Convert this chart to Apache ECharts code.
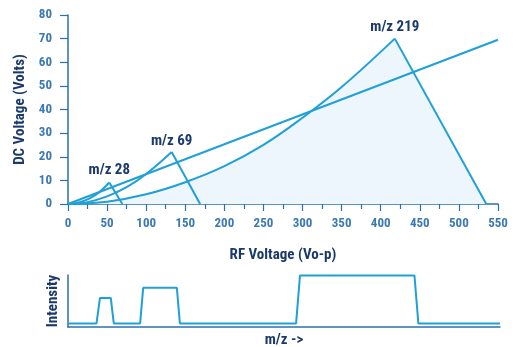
<!DOCTYPE html>
<html><head><meta charset="utf-8">
<script src="https://cdn.jsdelivr.net/npm/echarts@6/dist/echarts.min.js"></script>
<style>html,body{margin:0;padding:0;background:#fff}#c{width:522px;height:347px}</style>
</head><body><div id="c"></div>
<script>
// RF voltage axis ticks
const rfTicks = [0,50,100,150,200,250,300,350,400,450,500,550];
const dcTicks = [0,10,20,30,40,50,60,70,80];
// Operating (scan) line: [RF, DC]
const scanLine = [[0,0],[550,69.5]];
// Stability regions: left boundary curve (origin -> apex) and right boundary (apex -> axis)
const mz28Left  = [[0,0],[10,0.3],[20,1.25],[30,2.8],[40,5.0],[52.8,9.1]];
const mz28Right = [[52.8,9.1],[69.5,0]];
const mz69Left  = [[0,0],[25,0.8],[50,3.2],[75,7.1],[100,12.7],[132.6,22.0]];
const mz69Right = [[132.6,22.0],[169,0]];
const mz219Left = [[0,0],[50,1.0],[100,4.1],[150,9.2],[200,16.0],[250,25.0],[300,36.5],[350,49.5],[418,70.0]];
const mz219Right= [[418,70.0],[535,0]];
const regionNames = ['m/z 28','m/z 69','m/z 219'];
const apexes = [[52.8,9.1],[132.6,22.0],[418,70.0]];
const labelGaps = [4,2,3];
// Mass spectrum (m/z in relative units 0..100, intensity 0..100)
const specX = [0,6.6,7.4,9.9,10.6,16.7,17.4,25.2,25.9,52.8,53.7,80.2,81.1,100];
const specY = [7,7,56.5,56.5,7,7,76,76,7,7,100,100,7,7];

const FONT = "'Liberation Sans Narrow','Roboto Condensed','Liberation Sans',sans-serif";
const LINE = '#1fa0d8';
const NAVY = '#1b3a6b';
const AXIS = '#2d6fae';
const TICKLBL = '#3a79b3';
const FILL = '#edf6fc';

function curve(data, smooth, fill){
  const s = {type:'line', xAxisIndex:0, yAxisIndex:0, data:data, showSymbol:false, symbol:'none',
    smooth:smooth, lineStyle:{color:LINE, width:2}};
  if (fill) s.areaStyle = {color:FILL, opacity:1};
  return s;
}

const chart = echarts.init(document.getElementById('c'), null, {renderer:'canvas'});
chart.setOption({
  animation:false,
  backgroundColor:'#fff',
  grid:[
    {left:68, top:15, width:430, height:189, containLabel:false, outerBoundsMode:'none'},
    {left:68, top:275, width:432, height:52, containLabel:false, outerBoundsMode:'none'}
  ],
  xAxis:[
    {gridIndex:0, type:'value', min:rfTicks[0], max:rfTicks[rfTicks.length-1], interval:50,
     name:'RF Voltage (Vo-p)', nameLocation:'middle', nameGap:44,
     nameTextStyle:{color:NAVY, fontFamily:FONT, fontWeight:'bold', fontSize:15},
     axisLine:{lineStyle:{color:AXIS, width:1.5}},
     axisTick:{show:true, length:7, lineStyle:{color:AXIS, width:1.2}},
     minorTick:{show:true, splitNumber:2, length:5, lineStyle:{color:AXIS, width:1.2}},
     splitLine:{show:false},
     axisLabel:{color:TICKLBL, fontFamily:FONT, fontWeight:'bold', fontSize:13, margin:13}},
    {gridIndex:1, type:'value', min:0, max:100,
     name:'m/z ->', nameLocation:'middle', nameGap:6,
     nameTextStyle:{color:NAVY, fontFamily:FONT, fontWeight:'bold', fontSize:15},
     axisLine:{lineStyle:{color:AXIS, width:1.5}},
     axisTick:{show:false}, axisLabel:{show:false}, splitLine:{show:false}}
  ],
  yAxis:[
    {gridIndex:0, type:'value', min:dcTicks[0], max:dcTicks[dcTicks.length-1], interval:10,
     name:'DC Voltage (Volts)', nameLocation:'middle', nameGap:38,
     nameTextStyle:{color:NAVY, fontFamily:FONT, fontWeight:'bold', fontSize:15},
     axisLine:{show:true, lineStyle:{color:AXIS, width:1.5}},
     axisTick:{show:true, length:8, lineStyle:{color:AXIS, width:1.2}},
     splitLine:{show:false},
     axisLabel:{color:TICKLBL, fontFamily:FONT, fontWeight:'bold', fontSize:13, margin:16}},
    {gridIndex:1, type:'value', min:0, max:101,
     name:'Intensity', nameLocation:'middle', nameGap:7,
     nameTextStyle:{color:NAVY, fontFamily:FONT, fontWeight:'bold', fontSize:15},
     axisLine:{show:true, lineStyle:{color:AXIS, width:1.5}},
     axisTick:{show:false}, axisLabel:{show:false}, splitLine:{show:false}}
  ],
  series:[
    curve(mz219Left, 0.4, true),
    curve(mz219Right, false, true),
    curve(mz69Left, 0.4, false),
    curve(mz69Right, false, false),
    curve(mz28Left, 0.4, false),
    curve(mz28Right, false, false),
    curve(scanLine, false, false),
    {type:'scatter', xAxisIndex:0, yAxisIndex:0, symbol:'circle', symbolSize:2, z:10,
     itemStyle:{color:'rgba(0,0,0,0)', opacity:1},
     data:apexes.map((p,i)=>({value:p, name:regionNames[i], label:{distance:labelGaps[i]}})),
     label:{show:true, position:'top', formatter:'{b}', opacity:1,
       color:NAVY, fontFamily:FONT, fontWeight:'bold', fontSize:15}},
    {type:'line', xAxisIndex:1, yAxisIndex:1, data:specX.map((x,i)=>[x,specY[i]]),
     showSymbol:false, symbol:'none', lineStyle:{color:LINE, width:2}}
  ]
});
</script></body></html>
